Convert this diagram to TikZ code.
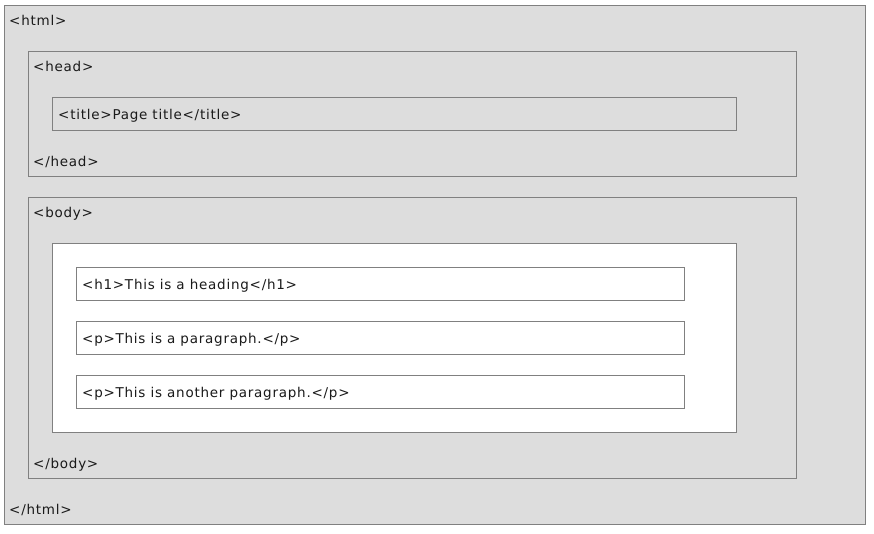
\documentclass[tikz,border=0pt]{standalone}
\usepackage{fontspec}
\setmainfont{DejaVu Sans}[LetterSpace=5.6]
\definecolor{boxfill}{HTML}{DDDDDD}
\definecolor{boxline}{HTML}{808080}
\definecolor{txt}{HTML}{1A1A1A}
\begin{document}
\begin{tikzpicture}[x=1pt,y=-1pt,
  box/.style={draw=boxline, line width=1pt, fill=boxfill, anchor=north west, inner sep=0pt, outer sep=0pt},
  wbox/.style={box, fill=white},
  lbl/.style={anchor=base west, inner sep=0pt, text=txt, font=\fontsize{13.5}{15}\selectfont}]
\useasboundingbox (0,0) rectangle (874,533);
\node[box, minimum width=861pt, minimum height=519pt] (html) at (4.5,5.5) {};
\node[box, minimum width=768pt, minimum height=125pt] (head) at (28.5,51.5) {};
\node[box, minimum width=684pt, minimum height=33pt] (title) at (52.5,97.5) {};
\node[box, minimum width=768pt, minimum height=281pt] (body) at (28.5,197.5) {};
\node[wbox, minimum width=684pt, minimum height=189pt] (content) at (52.5,243.5) {};
\node[wbox, minimum width=608pt, minimum height=33pt] (h1) at (76.5,267.5) {};
\node[wbox, minimum width=608pt, minimum height=33pt] (p1) at (76.5,321.5) {};
\node[wbox, minimum width=608pt, minimum height=33pt] (p2) at (76.5,375.5) {};
\node[lbl] (thtml) at (9,25) {<html>};
\node[lbl] (thead) at (33,71) {<head>};
\node[lbl] (ttitle) at (58,119) {<title>Page title</title>};
\node[lbl] (theadc) at (33,166) {</head>};
\node[lbl] (tbody) at (33,217) {<body>};
\node[lbl] (th1) at (82,289) {<h1>This is a heading</h1>};
\node[lbl] (tp1) at (82,343) {<p>This is a paragraph.</p>};
\node[lbl] (tp2) at (82,397) {<p>This is another paragraph.</p>};
\node[lbl] (tbodyc) at (33,468) {</body>};
\node[lbl] (thtmlc) at (9,514) {</html>};
\end{tikzpicture}
\end{document}
